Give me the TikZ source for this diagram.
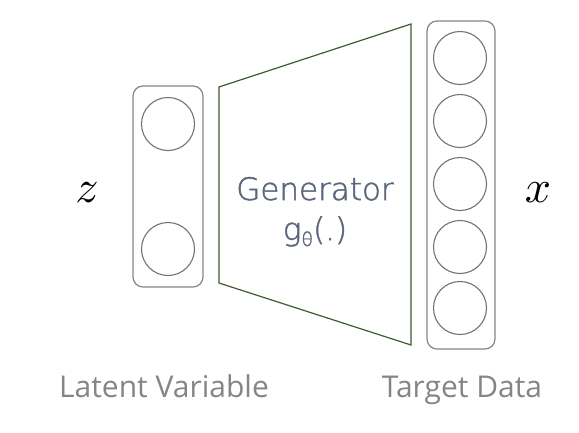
\documentclass[tikz,border=0pt]{standalone}
\usepackage{fontspec}
\newfontfamily\genfont[FakeBold=1.6]{DejaVu Sans ExtraLight}
\newfontfamily\labfont{Open Sans}
\definecolor{gentxt}{RGB}{92,104,124}
\definecolor{genline}{RGB}{62,92,44}
\begin{document}
\begin{tikzpicture}[x=1pt,y=-1pt,
  layerbox/.style={draw=black!48,line width=1.2pt,rounded corners=10pt},
  unit/.style={circle,draw=black!55,line width=1.1pt,minimum size=53pt,inner sep=0pt},
  gen/.style={draw=genline,line width=1.2pt},
  lab/.style={font=\labfont\fontsize{30}{32}\selectfont,text=black!48},
  gentext/.style={font=\genfont\fontsize{31}{36}\selectfont,text=gentxt,align=center}]
\useasboundingbox (0,0) rectangle (579,432);
% left layer
\draw[layerbox] (133,86) rectangle (203,287);
\node[unit] (z1) at (168,124) {};
\node[unit] (z2) at (168,249) {};
% generator
\coordinate (tl) at (219,87);
\coordinate (bl) at (219,283);
\coordinate (tr) at (411,24);
\coordinate (br) at (411,345);
\draw[gen] (tl) -- (tr) -- (br) -- (bl) -- cycle;
\node[gentext,anchor=base] (g1) at (315,200) {Generator};
\node[gentext,anchor=base] (g2) at (315,240) {g\raisebox{-6pt}{\genfont\fontsize{19}{20}\selectfont θ}(.)};
% right layer
\draw[layerbox] (427,21) rectangle (495,349);
\foreach \i/\y in {1/58,2/121,3/184,4/247,5/308}{
  \node[unit] (x\i) at (460,\y) {};
}
% symbols
\node[scale=4.6] (zl) at (87,193) {$z$};
\node[scale=4.6] (xl) at (538,193) {$x$};
% labels
\node[lab,anchor=base] (lv) at (164,397) {Latent Variable};
\node[lab,anchor=base] (td) at (462,397) {Target Data};
\end{tikzpicture}
\end{document}
